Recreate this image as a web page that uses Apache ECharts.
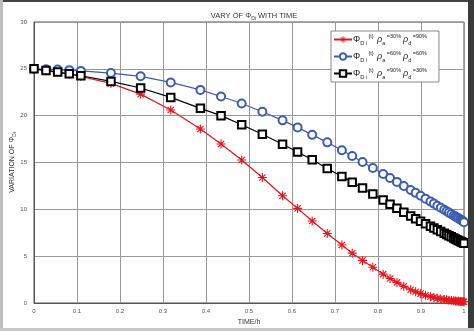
<!DOCTYPE html>
<html>
<head>
<meta charset="utf-8">
<script src="https://cdn.jsdelivr.net/npm/echarts@6/dist/echarts.min.js"></script>
<style>html,body{margin:0;padding:0;background:#fff}#c{width:474px;height:331px}</style>
</head>
<body>
<div id="c"></div>
<script>
// time samples (h)
var timeH = [0, 0.028, 0.055, 0.082, 0.109, 0.179, 0.248, 0.318, 0.387, 0.435, 0.483, 0.531, 0.578, 0.613, 0.647, 0.682, 0.716, 0.740, 0.764, 0.788, 0.812, 0.828, 0.844, 0.860, 0.876, 0.8875, 0.899, 0.9105, 0.922, 0.930, 0.938, 0.946, 0.954, 0.9595, 0.965, 0.9705, 0.976, 0.980, 0.9835, 0.987, 0.991, 0.993, 0.9955, 0.998, 1.0];
// ρa=30% ρd=90%
var phiA30D90 = [25.0, 24.8, 24.62, 24.42, 24.18, 23.45, 22.3, 20.6, 18.57, 16.97, 15.26, 13.4, 11.45, 10.1, 8.75, 7.42, 6.19, 5.32, 4.55, 3.81, 3.08, 2.62, 2.2, 1.78, 1.42, 1.2, 1.0, 0.83, 0.68, 0.59, 0.51, 0.44, 0.38, 0.34, 0.3, 0.27, 0.24, 0.22, 0.2, 0.19, 0.17, 0.16, 0.15, 0.14, 0.13];
// ρa=60% ρd=60%
var phiA60D60 = [25.0, 24.96, 24.92, 24.86, 24.78, 24.55, 24.2, 23.55, 22.75, 22.05, 21.3, 20.42, 19.5, 18.75, 17.95, 17.15, 16.3, 15.7, 15.05, 14.42, 13.77, 13.35, 12.93, 12.5, 12.07, 11.76, 11.45, 11.14, 10.83, 10.61, 10.39, 10.17, 9.95, 9.8, 9.65, 9.5, 9.35, 9.24, 9.14, 9.04, 8.93, 8.87, 8.8, 8.73, 8.62];
// ρa=90% ρd=30%
var phiA90D30 = [25.0, 24.83, 24.65, 24.47, 24.26, 23.66, 22.95, 21.95, 20.78, 20.0, 19.03, 18.02, 16.95, 16.12, 15.3, 14.37, 13.5, 12.88, 12.27, 11.63, 10.99, 10.55, 10.12, 9.7, 9.28, 9.0, 8.73, 8.46, 8.19, 8.0, 7.82, 7.63, 7.45, 7.32, 7.19, 7.06, 6.93, 6.84, 6.76, 6.68, 6.58, 6.54, 6.48, 6.42, 6.37];
var seriesNames = ['ρa=30% ρd=90%', 'ρa=60% ρd=60%', 'ρa=90% ρd=30%'];
var legendTexts = [
  '{phi|Φ}{sub|D i }{sup|(t) } {rho|ρ}{sub|a }{sup|=30%} {rho|ρ}{sub|d }{sup|=90%}',
  '{phi|Φ}{sub|D i }{sup|(t) } {rho|ρ}{sub|a }{sup|=60%} {rho|ρ}{sub|d }{sup|=60%}',
  '{phi|Φ}{sub|D i }{sup|(t) } {rho|ρ}{sub|a }{sup|=90%} {rho|ρ}{sub|d }{sup|=30%}'
];
var xTicks = [0, 0.1, 0.2, 0.3, 0.4, 0.5, 0.6, 0.7, 0.8, 0.9, 1];
var yTicks = [0, 5, 10, 15, 20, 25, 30];

function pairs(ys){ return timeH.map(function(t,i){ return [t, ys[i]]; }); }

var asterisk = 'path://M5,0L5,10M0,5L10,5M1.5,1.5L8.5,8.5M8.5,1.5L1.5,8.5';
var FONT = 'Liberation Sans';
var RED = '#e8141c', BLUE = '#3b5eb3', BLACK = '#000';
var chart = echarts.init(document.getElementById('c'), null, {renderer:'canvas'});
chart.setOption({
  animation: false,
  backgroundColor: '#fff',
  textStyle: {fontFamily: FONT},
  title: {
    text: '{a|VARY OF Φ}{s|Di}{a| WITH TIME}',
    left: 249, top: 5, textAlign: 'center',
    textStyle: {fontWeight: 'normal', rich: {
      a: {fontSize: 7.5, color: '#333', fontFamily: FONT, fontWeight: 'normal', lineHeight: 11},
      s: {fontSize: 5, color: '#333', fontFamily: FONT, fontWeight: 'normal', verticalAlign: 'bottom', lineHeight: 9}
    }}
  },
  grid: {left: 34, right: 10, top: 22, bottom: 28, containLabel: false, outerBoundsMode: 'none', show: true, borderColor: '#555', borderWidth: 1, backgroundColor: '#fff'},
  legend: {
    orient: 'vertical', left: 331, top: 31,
    itemWidth: 18, itemHeight: 8, itemGap: 4,
    padding: [2, 12, 2, 2],
    backgroundColor: '#fff', borderColor: '#888', borderWidth: 1,
    data: [
      {name: seriesNames[0], itemStyle: {color: 'rgba(0,0,0,0)', borderColor: RED, borderWidth: 1}},
      {name: seriesNames[1]},
      {name: seriesNames[2]}
    ],
    formatter: function(name){ return legendTexts[seriesNames.indexOf(name)]; },
    textStyle: {
      fontSize: 7, color: '#222', padding: [0,0,0,-4],
      rich: {
        phi: {fontSize: 9, color: '#222', fontFamily: FONT, lineHeight: 13},
        sub: {fontSize: 5.5, color: '#222', fontFamily: FONT, verticalAlign: 'bottom', lineHeight: 10},
        sup: {fontSize: 5.5, color: '#222', fontFamily: FONT, verticalAlign: 'top', lineHeight: 13},
        rho: {fontSize: 9, color: '#222', fontFamily: FONT, fontStyle: 'italic', lineHeight: 13}
      }
    }
  },
  xAxis: {
    type: 'value', min: xTicks[0], max: xTicks[xTicks.length-1], interval: 0.1,
    name: 'TIME/h', nameLocation: 'middle', nameGap: 16, nameMoveOverlap: false,
    nameTextStyle: {fontSize: 7, color: '#333', fontFamily: FONT},
    axisLine: {show: true, lineStyle: {color: '#555'}},
    axisTick: {show: false},
    axisLabel: {fontSize: 6, color: '#555', margin: 5, fontFamily: FONT},
    splitLine: {show: true, lineStyle: {color: '#999', width: 1}}
  },
  yAxis: {
    type: 'value', min: yTicks[0], max: yTicks[yTicks.length-1], interval: 5,
    name: '{a|VARIATION OF Φ}{s|Di}', nameLocation: 'middle', nameGap: 17, nameMoveOverlap: false,
    nameTextStyle: {rich: {
      a: {fontSize: 7, color: '#333', fontFamily: FONT, lineHeight: 10},
      s: {fontSize: 5, color: '#333', fontFamily: FONT, verticalAlign: 'bottom', lineHeight: 8}
    }},
    axisLine: {show: true, lineStyle: {color: '#555'}},
    axisTick: {show: false},
    axisLabel: {fontSize: 6, color: '#555', margin: 7, fontFamily: FONT},
    splitLine: {show: true, lineStyle: {color: '#999', width: 1}}
  },
  graphic: [
    {type: 'rect', shape: {x: 0, y: 0, width: 474, height: 2}, style: {fill: '#444'}, z: 100},
    {type: 'rect', shape: {x: 0, y: 0, width: 3, height: 331}, style: {fill: '#bdbdbd'}, z: 100},
    {type: 'rect', shape: {x: 468, y: 0, width: 6, height: 331}, style: {fill: '#3a3a3a'}, z: 100},
    {type: 'rect', shape: {x: 0, y: 328, width: 474, height: 3}, style: {fill: '#c8c8c8'}, z: 100}
  ],
  series: [
    {name: seriesNames[0], type: 'line', data: pairs(phiA30D90), symbol: asterisk, symbolSize: 9,
     lineStyle: {color: RED, width: 1.2}, itemStyle: {color: 'rgba(0,0,0,0)', borderColor: RED, borderWidth: 1.1}, z: 2},
    {name: seriesNames[1], type: 'line', data: pairs(phiA60D60), symbol: 'emptyCircle', symbolSize: 8,
     lineStyle: {color: BLUE, width: 1.2}, itemStyle: {color: BLUE, borderColor: BLUE, borderWidth: 1}, z: 3},
    {name: seriesNames[2], type: 'line', data: pairs(phiA90D30), symbol: 'emptyRect', symbolSize: 7.5,
     lineStyle: {color: BLACK, width: 1.2}, itemStyle: {color: BLACK, borderColor: BLACK, borderWidth: 1.1}, z: 4}
  ]
});
</script>
</body>
</html>
